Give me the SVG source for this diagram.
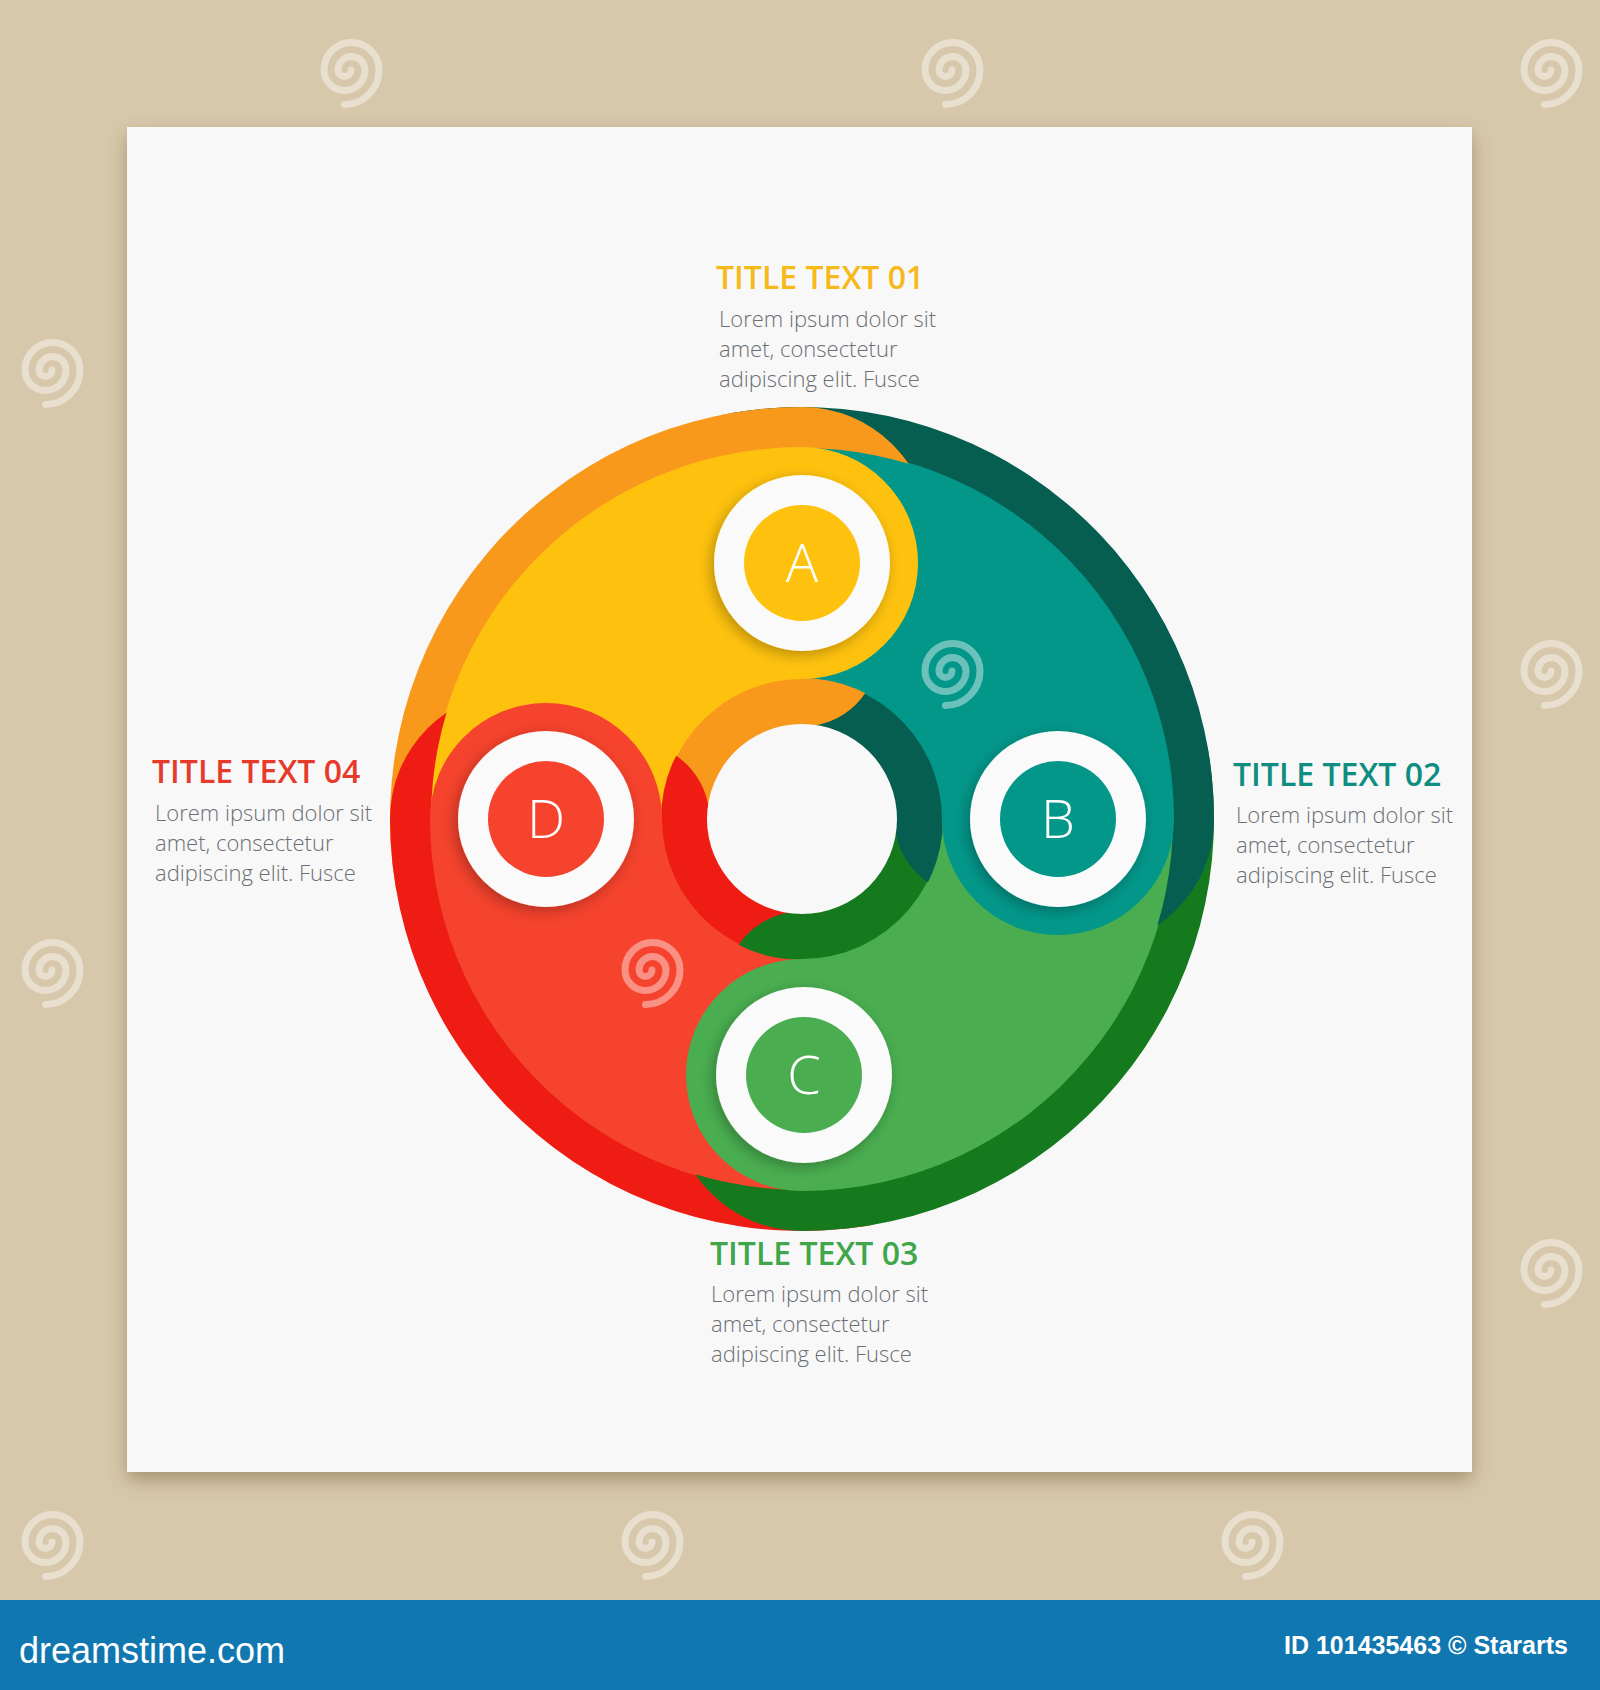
<svg xmlns="http://www.w3.org/2000/svg" xmlns:xlink="http://www.w3.org/1999/xlink" width="1600" height="1690" viewBox="0 0 1600 1690">
  <style>
    .title { font-family: "Open Sans", "Noto Sans", "Liberation Sans", sans-serif; font-weight: 600; font-size: 32px; }
    .body { font-family: "Open Sans", "Noto Sans", "Liberation Sans", sans-serif; font-weight: 300; font-size: 22px; fill: #6b6e74; }
    .letter { font-family: "Open Sans", "Noto Sans", "Liberation Sans", sans-serif; font-weight: 300; font-size: 54px; fill: #ffffff; text-anchor: middle; }
    .ring { fill: #fafafa; filter: url(#bshadow); }
    .spiral { fill: none; stroke: #ffffff; stroke-opacity: 0.42; stroke-width: 7; stroke-linecap: round; }
    .foot { font-family: "Liberation Sans", "DejaVu Sans", sans-serif; fill: #ffffff; }
  </style>
  <defs>
    <filter id="cardshadow" x="-10%" y="-10%" width="120%" height="125%">
      <feDropShadow dx="0" dy="8" stdDeviation="9" flood-color="#6e532e" flood-opacity="0.45"/>
    </filter>
    <filter id="bshadow" x="-40%" y="-40%" width="180%" height="180%">
      <feDropShadow dx="-3" dy="4" stdDeviation="7" flood-color="#000000" flood-opacity="0.28"/>
    </filter>
    <!-- band segment with rounded end, bubble at top (local coords) -->
    <path id="seg" d="M -366.35 64.60 A 372 372 0 0 1 0 -372 A 116 116 0 0 1 116 -256 A 116 116 0 0 1 0 -140 A 140 140 0 0 0 -137.87 24.31 Z"/>
    <path id="sp" d="M 3 0 A 6.5 6.5 0 0 1 -10 0 A 13.5 13.5 0 0 1 17 0 A 20.5 20.5 0 0 1 -24 0 A 27.5 27.5 0 0 1 31 0 A 34.5 34.5 0 0 1 -3.5 34.5"/>
    <clipPath id="outerBand" clipPathUnits="userSpaceOnUse">
      <path fill-rule="evenodd" clip-rule="evenodd" d="M -420 0 A 420 420 0 1 0 420 0 A 420 420 0 1 0 -420 0 Z M -371 0 A 371 371 0 1 1 371 0 A 371 371 0 1 1 -371 0 Z"/>
    </clipPath>
    <clipPath id="innerRing" clipPathUnits="userSpaceOnUse">
      <circle cx="0" cy="0" r="141"/>
    </clipPath>
    <g id="pieceA">
      <g clip-path="url(#outerBand)"><use xlink:href="#seg" transform="scale(1.1075)" fill="#F8991C"/></g>
      <g clip-path="url(#innerRing)"><use xlink:href="#seg" transform="scale(0.66)" fill="#F8991C"/></g>
      <use xlink:href="#seg" fill="#FEC20E"/>
    </g>
    <clipPath id="clipA" clipPathUnits="userSpaceOnUse">
      <rect x="722" y="0" width="900" height="819"/>
    </clipPath>
  </defs>

  <!-- background -->
  <rect x="0" y="0" width="1600" height="1690" fill="#D7C8AC"/>
  <g id="watermark-spirals">
    <use xlink:href="#sp" class="spiral" x="348" y="70"/>
    <use xlink:href="#sp" class="spiral" x="949" y="70"/>
    <use xlink:href="#sp" class="spiral" x="1548" y="70"/>
    <use xlink:href="#sp" class="spiral" x="49" y="370"/>
    <use xlink:href="#sp" class="spiral" x="1548" y="671"/>
    <use xlink:href="#sp" class="spiral" x="49" y="970"/>
    <use xlink:href="#sp" class="spiral" x="1548" y="1270"/>
    <use xlink:href="#sp" class="spiral" x="49" y="1542"/>
    <use xlink:href="#sp" class="spiral" x="649" y="1542"/>
    <use xlink:href="#sp" class="spiral" x="1249" y="1542"/>
  </g>

  <!-- card -->
  <rect id="card" x="127" y="127" width="1345" height="1345" fill="#F8F8F8" filter="url(#cardshadow)"/>

  <!-- pinwheel segments -->
  <g id="segments">
    <g id="segment-a" transform="translate(802 819)">
      <use xlink:href="#pieceA"/>
    </g>
    <g id="segment-d" transform="translate(802 819) rotate(270)">
      <g clip-path="url(#outerBand)"><use xlink:href="#seg" transform="scale(1.1075)" fill="#EE1C13"/></g>
      <g clip-path="url(#innerRing)"><use xlink:href="#seg" transform="scale(0.66)" fill="#EE1C13"/></g>
      <use xlink:href="#seg" fill="#F5432D"/>
    </g>
    <g id="segment-c" transform="translate(802 819) rotate(180)">
      <g clip-path="url(#outerBand)"><use xlink:href="#seg" transform="scale(1.1075)" fill="#15791E"/></g>
      <g clip-path="url(#innerRing)"><use xlink:href="#seg" transform="scale(0.66)" fill="#15791E"/></g>
      <use xlink:href="#seg" fill="#4AAE50"/>
    </g>
    <g id="segment-b" transform="translate(802 819) rotate(90)">
      <g clip-path="url(#outerBand)"><use xlink:href="#seg" transform="scale(1.1075)" fill="#065E51"/></g>
      <g clip-path="url(#innerRing)"><use xlink:href="#seg" transform="scale(0.66)" fill="#065E51"/></g>
      <use xlink:href="#seg" fill="#03978A"/>
    </g>
    <g id="segment-a-top" clip-path="url(#clipA)">
      <g transform="translate(802 819)">
        <use xlink:href="#pieceA"/>
      </g>
    </g>
    <circle id="hub" cx="802" cy="819" r="95" fill="#F8F8F8"/>
  </g>

  <g id="watermark-spirals-front">
    <use xlink:href="#sp" class="spiral" x="949" y="671"/>
    <use xlink:href="#sp" class="spiral" x="649" y="970"/>
  </g>

  <g id="connectors"></g>

  <!-- nodes -->
  <g id="node-a">
    <circle cx="802" cy="563" r="88" class="ring"/>
    <circle cx="802" cy="563" r="58" fill="#FEC20E"/>
    <text x="802" y="582" class="letter">A</text>
  </g>
  <g id="node-b">
    <circle cx="1058" cy="819" r="88" class="ring"/>
    <circle cx="1058" cy="819" r="58" fill="#03978A"/>
    <text x="1058" y="838" class="letter">B</text>
  </g>
  <g id="node-c">
    <circle cx="804" cy="1075" r="88" class="ring"/>
    <circle cx="804" cy="1075" r="58" fill="#4AAE50"/>
    <text x="804" y="1094" class="letter">C</text>
  </g>
  <g id="node-d">
    <circle cx="546" cy="819" r="88" class="ring"/>
    <circle cx="546" cy="819" r="58" fill="#F5432D"/>
    <text x="546" y="838" class="letter">D</text>
  </g>

  <!-- labels -->
  <g id="label-01">
    <text x="716" y="289" class="title" fill="#F6B91A">TITLE TEXT 01</text>
    <text class="body"><tspan x="719" y="327">Lorem ipsum dolor sit</tspan><tspan x="719" y="357">amet, consectetur</tspan><tspan x="719" y="387">adipiscing elit. Fusce</tspan></text>
  </g>
  <g id="label-02">
    <text x="1233" y="786" class="title" fill="#0E8D80">TITLE TEXT 02</text>
    <text class="body"><tspan x="1236" y="823">Lorem ipsum dolor sit</tspan><tspan x="1236" y="853">amet, consectetur</tspan><tspan x="1236" y="883">adipiscing elit. Fusce</tspan></text>
  </g>
  <g id="label-03">
    <text x="710" y="1265" class="title" fill="#3FA64A">TITLE TEXT 03</text>
    <text class="body"><tspan x="711" y="1302">Lorem ipsum dolor sit</tspan><tspan x="711" y="1332">amet, consectetur</tspan><tspan x="711" y="1362">adipiscing elit. Fusce</tspan></text>
  </g>
  <g id="label-04">
    <text x="152" y="783" class="title" fill="#E63B2B">TITLE TEXT 04</text>
    <text class="body"><tspan x="155" y="821">Lorem ipsum dolor sit</tspan><tspan x="155" y="851">amet, consectetur</tspan><tspan x="155" y="881">adipiscing elit. Fusce</tspan></text>
  </g>

  <!-- footer -->
  <rect id="footer" x="0" y="1600" width="1600" height="90" fill="#1077B0"/>
  <text x="19" y="1663" class="foot" font-size="36">dreamstime.com</text>
  <text x="1284" y="1654" class="foot" font-size="25" font-weight="bold">ID 101435463 © Stararts</text>
</svg>
